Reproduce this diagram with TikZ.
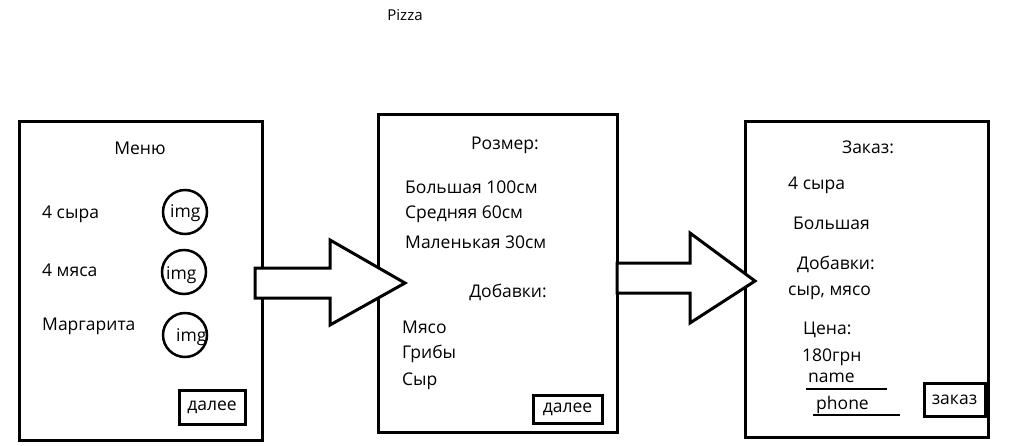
\documentclass[tikz,border=0pt]{standalone}
\usepackage{fontspec}
\setmainfont{Open Sans}
\begin{document}
\begin{tikzpicture}[x=1pt,y=-1pt,
  box/.style={draw,line width=3pt},
  txt/.style={font=\fontsize{17.5}{20}\selectfont,inner sep=0pt},
  lt/.style={txt,anchor=west},
  img/.style={draw,line width=2.5pt,circle,minimum size=44pt,inner sep=0pt},
  btn/.style={draw,line width=3pt,inner sep=0pt,txt},
  barrow/.style={draw,line width=3pt,fill=white,line join=miter}]
\useasboundingbox (0,0) rectangle (1009,445);
\node[txt,font=\fontsize{15}{17}\selectfont] (title) at (405,15) {Pizza};
% boxes
\node[box,minimum width=243pt,minimum height=319pt,inner sep=0pt] (b1) at (140.5,280.5) {};
\node[box,minimum width=239pt,minimum height=318pt,inner sep=0pt] (b2) at (497.5,273) {};
\node[box,minimum width=243pt,minimum height=316pt,inner sep=0pt] (b3) at (866.5,279) {};
% arrows
\draw[barrow] (255,268) -- (330,268) -- (330,240) -- (405,283) -- (330,325) -- (330,298) -- (255,298) -- cycle;
\draw[barrow] (617,263) -- (690,263) -- (690,233) -- (755,281) -- (690,323) -- (690,293) -- (617,293) -- cycle;
% box 1
\node[txt] (m) at (140,148) {Меню};
\node[lt] (p1) at (42,214) {4 сыра};
\node[lt] (p2) at (42,270) {4 мяса};
\node[lt] (p3) at (42,326) {Маргарита};
\node[img] (c1) at (185,212) {};
\node[img] (c2) at (184,272) {};
\node[img] (c3) at (185,335) {};
\node[lt] at (170,213) {img};
\node[lt] at (166,275) {img};
\node[lt] at (176,337) {img};
\node[btn,minimum width=66pt,minimum height=34pt] (d1) at (212,407) {далее};
% box 2
\node[txt] (r) at (505,145) {Розмер:};
\node[lt] (s1) at (405,187) {Большая 100см};
\node[lt] (s2) at (405,214) {Средняя 60см};
\node[lt] (s3) at (405,242) {Маленькая 30см};
\node[txt] (dob) at (508,292) {Добавки:};
\node[lt] (a1) at (402,327) {Мясо};
\node[lt] (a2) at (402,354) {Грибы};
\node[lt] (a3) at (402,381) {Сыр};
\node[btn,minimum width=69pt,minimum height=28pt] (d2) at (567.5,409) {далее};
% box 3
\node[txt] (z) at (868,147) {Заказ:};
\node[lt] (o1) at (788,185) {4 сыра};
\node[lt] (o2) at (793,223) {Большая};
\node[lt] (o3) at (797,264) {Добавки:};
\node[lt] (o4) at (788,293) {сыр, мясо};
\node[lt] (o5) at (803,330) {Цена:};
\node[lt] (o6) at (802,357) {180грн};
\node[lt] (n) at (808,378) {name};
\node[lt] (ph) at (816,405) {phone};
\coordinate (n1) at (806,389); \coordinate (n2) at (887,389);
\coordinate (q1) at (813,415); \coordinate (q2) at (900,415);
\draw[line width=2.5pt] (n1) -- (n2);
\draw[line width=2.5pt] (q1) -- (q2);
\node[btn,minimum width=61pt,minimum height=33pt] (d3) at (954.5,399.5) {заказ};
\end{tikzpicture}
\end{document}
